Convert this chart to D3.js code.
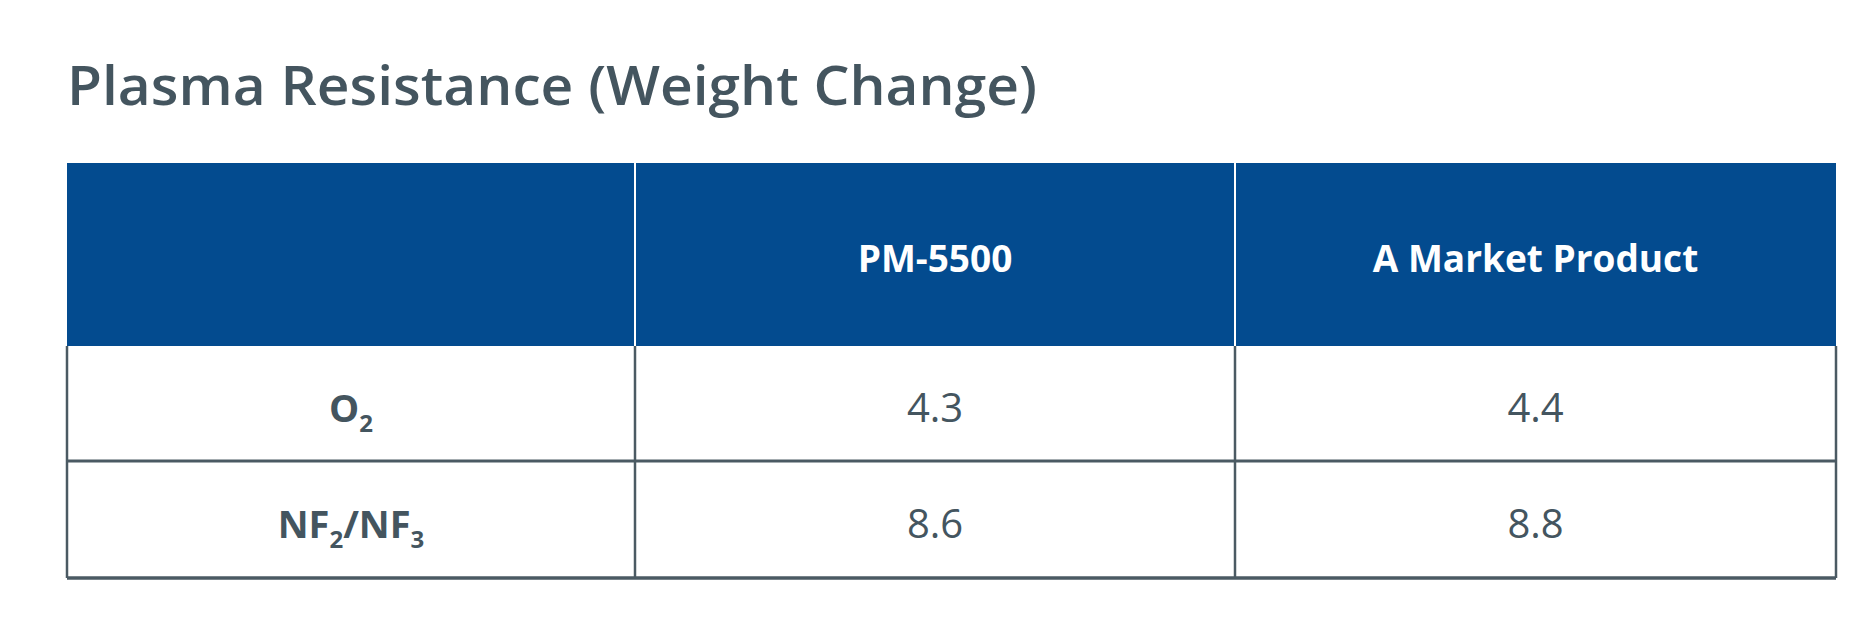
<!DOCTYPE html>
<meta charset="utf-8">
<html>
<body style="margin:0;background:#fff">
<div id="chart"></div>
<script src="https://cdn.jsdelivr.net/npm/d3@7"></script>
<script>
var title = "Plasma Resistance (Weight Change)";
var columns = ["", "PM-5500", "A Market Product"];
var gases = [["O", "2"], ["NF", "2", "/NF", "3"]];
var pm5500 = ["4.3", "8.6"];
var marketProduct = ["4.4", "8.8"];

var W = 1873, H = 637, ink = "#44555f", blue = "#034b8f";
var svg = d3.select("#chart").append("svg").attr("width", W).attr("height", H);
var font = "'Open Sans', sans-serif";

// title, squeezed to the reference width
var t = svg.append("text").attr("x", 67).attr("y", 105)
  .style("font-family", font).style("font-weight", 600).style("font-size", "54px")
  .attr("fill", ink).text(title);
t.attr("textLength", 970).attr("lengthAdjust", "spacingAndGlyphs");

var x = d3.scaleOrdinal().domain([0, 1, 2, 3]).range([67, 635, 1235, 1836]);
var rowY = [163, 346, 461, 578];

// header
svg.append("rect").attr("x", x(0)).attr("y", rowY[0]).attr("width", x(3) - x(0))
  .attr("height", rowY[1] - rowY[0]).attr("fill", blue);
svg.selectAll(".hdiv").data([1, 2]).enter().append("line")
  .attr("x1", d => x(d)).attr("x2", d => x(d)).attr("y1", rowY[0]).attr("y2", rowY[1])
  .attr("stroke", "#fff").attr("stroke-width", 2);
svg.selectAll(".htext").data(columns).enter().append("text")
  .attr("x", (d, i) => (x(i) + x(i + 1)) / 2).attr("y", 272)
  .attr("text-anchor", "middle").attr("fill", "#fff")
  .style("font-family", font).style("font-weight", 700).style("font-size", "37px")
  .text(d => d);

// body grid
var g = svg.append("g").attr("stroke", "#4b5a63").attr("stroke-width", 2.5).attr("fill", "none");
[0, 1, 2, 3].forEach(function (i) {
  g.append("line").attr("x1", x(i)).attr("x2", x(i)).attr("y1", rowY[1]).attr("y2", rowY[3]);
});
[1, 2].forEach(function (r) {
  g.append("line").attr("x1", x(0)).attr("x2", x(3)).attr("y1", rowY[r + 1]).attr("y2", rowY[r + 1])
    .attr("stroke-width", r == 2 ? 3.5 : 3);
});

var base = [422, 538];
gases.forEach(function (parts, r) {
  var tx = svg.append("text").attr("x", (x(0) + x(1)) / 2).attr("y", base[r])
    .attr("text-anchor", "middle").attr("fill", ink)
    .style("font-family", font).style("font-weight", 700).style("font-size", "38px");
  parts.forEach(function (p, k) {
    var sub = k % 2 == 1;
    tx.append("tspan").text(p).style("font-size", sub ? "24px" : "38px")
      .attr("dy", sub ? 10 : (k ? -10 : 0));
  });
});
[pm5500, marketProduct].forEach(function (vals, c) {
  svg.selectAll(null).data(vals).enter().append("text")
    .attr("x", (x(c + 1) + x(c + 2)) / 2).attr("y", (d, r) => base[r])
    .attr("text-anchor", "middle").attr("fill", ink)
    .style("font-family", font).style("font-size", "40px").text(d => d);
});
</script>
</body>
</html>
